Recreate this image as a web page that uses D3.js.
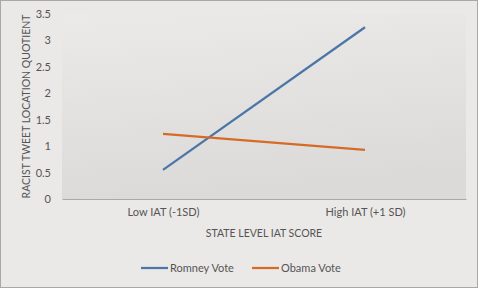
<!DOCTYPE html>
<html>
<head>
<meta charset="utf-8">
<script src="https://cdn.jsdelivr.net/npm/d3@7"></script>
<style>
  body { margin: 0; background: #ebe9e7; }
  svg text { font-family: Lato, "Open Sans", sans-serif; fill: #555; }
</style>
</head>
<body>
<div id="chart"></div>
<script>
const categories = ["Low IAT (-1SD)", "High IAT (+1 SD)"];
const romneyVote = [0.55, 3.25];
const obamaVote = [1.23, 0.93];
const yTicks = [0, 0.5, 1, 1.5, 2, 2.5, 3, 3.5];

const seriesList = [
  { name: "Romney Vote", values: romneyVote, color: "#4a76a8" },
  { name: "Obama Vote", values: obamaVote, color: "#d66b27" }
];

const W = 478, H = 288;
const margin = { top: 14, right: 12, bottom: 89, left: 62 };
const width = W - margin.left - margin.right;
const height = H - margin.top - margin.bottom;

const svg = d3.select("#chart").append("svg")
  .attr("width", W).attr("height", H);

// gradient for plot area
const defs = svg.append("defs");
const grad = defs.append("linearGradient").attr("id", "plotbg")
  .attr("x1", "0").attr("y1", "0").attr("x2", "0.2").attr("y2", "1");
grad.append("stop").attr("offset", "0%").attr("stop-color", "#eceae8");
grad.append("stop").attr("offset", "100%").attr("stop-color", "#dcdad8");

svg.append("rect").attr("x", 0.5).attr("y", 0.5)
  .attr("width", W - 1).attr("height", H - 1)
  .attr("fill", "#ebe9e7").attr("stroke", "#a8a8a8");

const g = svg.append("g").attr("transform", `translate(${margin.left},${margin.top})`);

g.append("rect").attr("width", width).attr("height", height).attr("fill", "url(#plotbg)");

const x = d3.scalePoint().domain(categories).range([0, width]).padding(0.5);
const y = d3.scaleLinear().domain([0, 3.5]).range([height, 0]);

// y axis
const yAxis = g.append("g").call(d3.axisLeft(y).tickValues(yTicks).tickSize(0).tickPadding(11)
  .tickFormat(d => d));
yAxis.select(".domain").remove();
yAxis.selectAll("text").style("font-size", "11px").style("fill", "#555");

// x axis
const xAxis = g.append("g").attr("transform", `translate(0,${height})`)
  .call(d3.axisBottom(x).tickSize(0).tickPadding(9));
xAxis.select(".domain").attr("stroke", "#a9a9a9");
xAxis.selectAll("text").style("font-size", "11px").style("fill", "#555");

// lines
const line = d3.line().x((d, i) => x(categories[i])).y(d => y(d));
seriesList.forEach(s => {
  g.append("path").datum(s.values)
    .attr("fill", "none").attr("stroke", s.color).attr("stroke-width", 2.25)
    .attr("d", line);
});

// axis titles
svg.append("text").attr("x", margin.left + width / 2).attr("y", 237)
  .attr("text-anchor", "middle").style("font-size", "10.5px").text("STATE LEVEL IAT SCORE");
svg.append("text").attr("transform", `translate(30,${margin.top + height / 2}) rotate(-90)`)
  .attr("text-anchor", "middle").style("font-size", "10.5px").text("RACIST TWEET LOCATION QUOTIENT");

// legend
const legendX = [141, 252];
seriesList.forEach((s, i) => {
  const lg = svg.append("g").attr("transform", `translate(${legendX[i]},268)`);
  lg.append("line").attr("x1", 0).attr("x2", 27).attr("y1", 0).attr("y2", 0)
    .attr("stroke", s.color).attr("stroke-width", 2.25);
  lg.append("text").attr("x", 29).attr("y", 4).style("font-size", "11px").text(s.name);
});
</script>
</body>
</html>
